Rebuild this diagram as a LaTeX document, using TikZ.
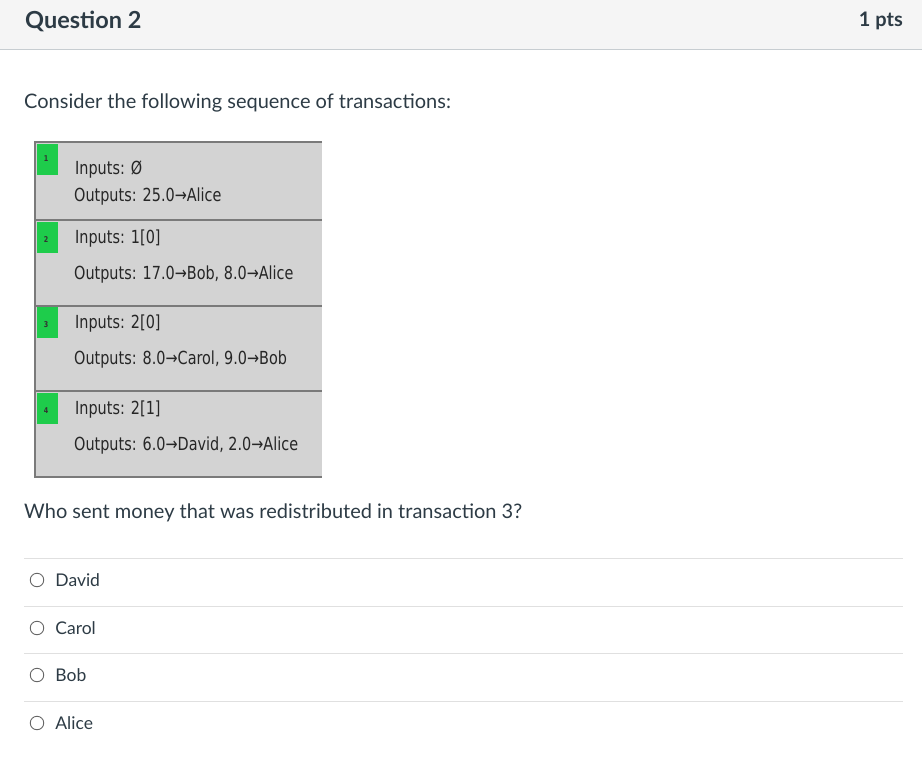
\documentclass[tikz,border=0pt]{standalone}
\usepackage{fontspec}
\setmainfont{Lato}
\newfontfamily\tabfont[FakeStretch=0.89]{DejaVu Sans Condensed}
\usetikzlibrary{positioning}

\definecolor{txtcol}{HTML}{2D3B45}
\definecolor{headbg}{HTML}{F5F5F5}
\definecolor{headrule}{HTML}{C7CDD1}
\definecolor{sepcol}{HTML}{E0E0E0}
\definecolor{tabbg}{HTML}{D3D3D3}
\definecolor{tabrule}{HTML}{7A7A7A}
\definecolor{txgreen}{HTML}{1ECC4B}

\tikzset{
  txline/.style={font=\tabfont\fontsize{18}{21}\selectfont, text=black!85, anchor=west},
  txnum/.style={font=\tabfont\bfseries\fontsize{8}{9}\selectfont, text=black!80},
  radio/.style={circle, draw=black!60, line width=0.9pt, minimum size=13.5pt},
  answer/.style={font=\fontsize{17.5}{21}\selectfont, text=txtcol}
}

\begin{document}
\begin{tikzpicture}[x=1pt, y=-1pt, every node/.style={inner sep=0pt}]
\useasboundingbox (0,0) rectangle (922,766);

% header
\fill[headbg] (0,0) rectangle (922,49);
\draw[headrule, line width=1pt] (0,49.5) -- (922,49.5);
\node[anchor=west, text=txtcol, font=\bfseries\fontsize{23.5}{28}\selectfont] (qtitle) at (25,21) {Question 2};
\node[anchor=east, text=txtcol, font=\bfseries\fontsize{20}{24}\selectfont] (qpts) at (903,21) {1 pts};

\node[anchor=west, text=txtcol, font=\fontsize{20}{24}\selectfont] (intro) at (24,103) {Consider the following sequence of transactions:};

% transaction table
\fill[tabbg] (35,142) rectangle (322,477);
\draw[tabrule, line width=1.5pt] (322,142) -- (35,142) -- (35,477) -- (322,477);
\foreach \ypos in {220,306,391}
  \draw[tabrule, line width=1.5pt] (35,\ypos) -- (322,\ypos);

\foreach \i/\top/\ny/\yin/\yout/\inp/\outp in {
    1/144/159/170/197/{Inputs: Ø}/{Outputs: 25.0→Alice},
    2/222/240/239/275/{Inputs: 1[0]}/{Outputs: 17.0→Bob, 8.0→Alice},
    3/307/325/324/360/{Inputs: 2[0]}/{Outputs: 8.0→Carol, 9.0→Bob},
    4/393/411/410/446/{Inputs: 2[1]}/{Outputs: 6.0→David, 2.0→Alice}}
{
  \fill[txgreen] (37,\top) rectangle (58,\top+31);
  \node[txnum] (num\i) at (46,\ny) {\i};
  \node[txline] (in\i) at (75,\yin) {\inp};
  \node[txline] (out\i) at (74,\yout) {\outp};
}

\node[anchor=west, text=txtcol, font=\fontsize{20}{24}\selectfont] (quest) at (24,513) {Who sent money that was redistributed in transaction 3?};

% answers
\foreach \i/\ypos/\name in {1/580/David, 2/628/Carol, 3/675/Bob, 4/723/Alice}
{
  \draw[sepcol, line width=1pt] (24,\ypos-22) -- (903,\ypos-22);
  \node[radio] (rad\i) at (37,\ypos) {};
  \node[answer, right=11pt of rad\i] (ans\i) {\name};
}
\end{tikzpicture}
\end{document}
